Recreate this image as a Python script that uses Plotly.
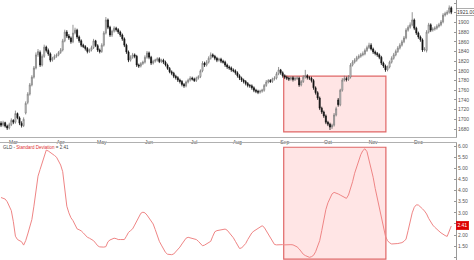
import pandas as pd
import plotly.graph_objects as go

# ---------------- data ----------------
dates = pd.bdate_range("2023-02-21", "2023-12-25").strftime("%Y-%m-%d").tolist()

opens = [
    1692, 1688, 1693, 1686, 1682, 1689, 1698, 1694, 1712, 1703,
    1692, 1687, 1713, 1735, 1752, 1771, 1787, 1806, 1833, 1838,
    1812, 1830, 1849, 1842, 1835, 1822, 1826, 1830, 1833, 1838,
    1843, 1862, 1880, 1872, 1868, 1860, 1878, 1884, 1870, 1862,
    1853, 1850, 1846, 1840, 1843, 1848, 1862, 1852, 1843, 1840,
    1853, 1878, 1905, 1890, 1874, 1882, 1888, 1885, 1880, 1874,
    1866, 1853, 1839, 1822, 1828, 1833, 1830, 1812, 1810, 1815,
    1818, 1828, 1837, 1828, 1816, 1820, 1822, 1825, 1819, 1822,
    1818, 1812, 1805, 1798, 1795, 1789, 1786, 1781, 1778, 1772,
    1769, 1777, 1781, 1785, 1783, 1780, 1785, 1788, 1800, 1816,
    1812, 1818, 1826, 1833, 1830, 1826, 1822, 1824, 1820, 1818,
    1812, 1808, 1806, 1802, 1800, 1796, 1790, 1785, 1781, 1778,
    1774, 1770, 1769, 1765, 1760, 1758, 1756, 1758, 1760, 1770,
    1777, 1780, 1778, 1783, 1785, 1794, 1802, 1796, 1790, 1787,
    1785, 1783, 1786, 1782, 1785, 1785, 1771, 1778, 1787, 1790,
    1786, 1785, 1780, 1765, 1755, 1744, 1723, 1715, 1707, 1694,
    1690, 1684, 1688, 1709, 1740, 1730, 1760, 1781, 1784, 1782,
    1787, 1812, 1818, 1822, 1827, 1830, 1833, 1835, 1842, 1848,
    1853, 1845, 1839, 1836, 1833, 1828, 1816, 1810, 1802, 1808,
    1818, 1826, 1833, 1840, 1847, 1853, 1860, 1868, 1884, 1890,
    1895, 1905, 1888, 1878, 1870, 1864, 1843, 1842, 1880, 1895,
    1884, 1886, 1888, 1892, 1895, 1901, 1915, 1918, 1921, 1930,
]
highs = [
    1696, 1697, 1695, 1689, 1693, 1702, 1700, 1718, 1714, 1706,
    1696, 1704, 1737, 1756, 1775, 1791, 1810, 1838, 1845, 1842,
    1834, 1854, 1852, 1846, 1838, 1829, 1834, 1836, 1841, 1847,
    1866, 1885, 1884, 1876, 1871, 1895, 1889, 1887, 1873, 1865,
    1856, 1853, 1849, 1846, 1852, 1866, 1864, 1855, 1846, 1857,
    1882, 1911, 1908, 1893, 1885, 1892, 1891, 1888, 1883, 1877,
    1869, 1856, 1842, 1832, 1837, 1836, 1833, 1815, 1818, 1821,
    1832, 1841, 1840, 1831, 1823, 1825, 1828, 1828, 1825, 1825,
    1821, 1815, 1808, 1801, 1798, 1792, 1789, 1784, 1781, 1775,
    1780, 1784, 1789, 1788, 1786, 1788, 1791, 1803, 1820, 1819,
    1822, 1830, 1838, 1836, 1833, 1829, 1827, 1827, 1823, 1821,
    1815, 1811, 1809, 1805, 1803, 1799, 1793, 1788, 1784, 1781,
    1777, 1773, 1772, 1768, 1763, 1761, 1761, 1763, 1773, 1781,
    1783, 1783, 1786, 1789, 1798, 1808, 1804, 1799, 1793, 1790,
    1788, 1789, 1789, 1788, 1789, 1788, 1781, 1791, 1802, 1793,
    1789, 1788, 1783, 1768, 1758, 1747, 1726, 1718, 1710, 1697,
    1693, 1691, 1713, 1726, 1744, 1763, 1785, 1790, 1788, 1791,
    1816, 1822, 1826, 1831, 1834, 1837, 1840, 1846, 1852, 1858,
    1857, 1848, 1842, 1839, 1836, 1831, 1819, 1813, 1811, 1821,
    1830, 1837, 1844, 1851, 1857, 1864, 1872, 1888, 1894, 1900,
    1921, 1908, 1891, 1881, 1873, 1867, 1849, 1884, 1899, 1898,
    1890, 1892, 1896, 1899, 1905, 1919, 1922, 1925, 1935, 1933,
]
lows = [
    1684, 1685, 1683, 1678, 1679, 1686, 1690, 1691, 1700, 1688,
    1683, 1684, 1710, 1731, 1749, 1768, 1784, 1803, 1829, 1808,
    1809, 1827, 1838, 1831, 1818, 1819, 1823, 1827, 1830, 1835,
    1840, 1859, 1868, 1864, 1856, 1857, 1875, 1866, 1858, 1849,
    1847, 1842, 1836, 1837, 1840, 1845, 1849, 1839, 1836, 1837,
    1850, 1875, 1886, 1870, 1870, 1879, 1881, 1876, 1870, 1862,
    1849, 1835, 1818, 1819, 1825, 1826, 1808, 1806, 1807, 1812,
    1815, 1825, 1824, 1812, 1813, 1817, 1819, 1816, 1816, 1814,
    1809, 1802, 1795, 1791, 1785, 1782, 1777, 1774, 1768, 1765,
    1766, 1774, 1778, 1780, 1777, 1777, 1782, 1785, 1797, 1808,
    1809, 1815, 1823, 1827, 1822, 1818, 1819, 1816, 1815, 1808,
    1804, 1802, 1798, 1797, 1792, 1786, 1781, 1777, 1774, 1770,
    1766, 1765, 1761, 1756, 1754, 1752, 1753, 1755, 1757, 1767,
    1774, 1775, 1775, 1780, 1782, 1791, 1792, 1786, 1783, 1781,
    1779, 1780, 1778, 1779, 1781, 1767, 1768, 1775, 1784, 1782,
    1781, 1776, 1761, 1751, 1740, 1719, 1711, 1703, 1690, 1686,
    1678, 1680, 1685, 1706, 1726, 1727, 1757, 1778, 1778, 1779,
    1784, 1809, 1815, 1819, 1824, 1827, 1830, 1832, 1839, 1845,
    1842, 1835, 1832, 1829, 1824, 1812, 1806, 1798, 1799, 1805,
    1815, 1823, 1830, 1837, 1844, 1850, 1857, 1865, 1881, 1887,
    1892, 1884, 1874, 1866, 1860, 1839, 1840, 1838, 1877, 1880,
    1881, 1883, 1885, 1889, 1892, 1898, 1912, 1915, 1918, 1917,
]
closes = [
    1688, 1693, 1686, 1682, 1689, 1698, 1694, 1712, 1703, 1692,
    1687, 1700, 1733, 1752, 1771, 1787, 1806, 1833, 1840, 1812,
    1830, 1849, 1842, 1835, 1822, 1826, 1830, 1833, 1838, 1843,
    1862, 1880, 1872, 1868, 1860, 1878, 1884, 1870, 1862, 1853,
    1850, 1846, 1840, 1843, 1848, 1862, 1852, 1843, 1840, 1853,
    1878, 1905, 1890, 1874, 1882, 1888, 1885, 1880, 1874, 1866,
    1853, 1839, 1822, 1828, 1833, 1830, 1812, 1810, 1815, 1818,
    1828, 1837, 1828, 1816, 1820, 1822, 1825, 1819, 1822, 1818,
    1812, 1805, 1798, 1795, 1789, 1786, 1781, 1778, 1772, 1769,
    1777, 1781, 1785, 1783, 1780, 1785, 1788, 1800, 1816, 1812,
    1818, 1826, 1833, 1830, 1826, 1822, 1824, 1820, 1818, 1812,
    1808, 1806, 1802, 1800, 1796, 1790, 1785, 1781, 1778, 1774,
    1770, 1769, 1765, 1760, 1758, 1756, 1758, 1760, 1770, 1777,
    1780, 1778, 1783, 1785, 1794, 1802, 1796, 1790, 1787, 1785,
    1783, 1786, 1782, 1785, 1785, 1771, 1778, 1787, 1790, 1786,
    1785, 1780, 1765, 1755, 1744, 1723, 1715, 1707, 1694, 1690,
    1684, 1688, 1709, 1722, 1730, 1760, 1781, 1784, 1782, 1787,
    1812, 1818, 1822, 1827, 1830, 1833, 1835, 1842, 1848, 1853,
    1845, 1839, 1836, 1833, 1828, 1816, 1810, 1802, 1808, 1818,
    1826, 1833, 1840, 1847, 1853, 1860, 1868, 1884, 1890, 1895,
    1905, 1888, 1878, 1870, 1864, 1843, 1845, 1880, 1895, 1884,
    1886, 1888, 1892, 1895, 1901, 1915, 1918, 1921, 1930, 1921,
]
std_dev = [
    3.69, 3.67, 3.62, 3.50, 3.32, 3.10, 2.60, 1.95, 1.80, 1.74,
    1.70, 1.55, 1.75, 2.05, 2.40, 2.70, 3.30, 4.10, 4.65, 4.95,
    5.25, 5.60, 5.82, 5.78, 5.72, 5.65, 5.58, 5.50, 5.35, 5.15,
    4.85, 4.10, 3.30, 3.00, 2.78, 2.65, 2.45, 2.28, 2.24, 2.19,
    2.10, 1.98, 1.90, 1.86, 1.82, 1.75, 1.64, 1.52, 1.47, 1.45,
    1.46, 1.48, 1.70, 1.78, 1.82, 1.86, 1.84, 1.80, 1.80, 1.79,
    1.80, 1.95, 2.12, 2.20, 2.28, 2.45, 2.65, 2.85, 2.98, 3.03,
    3.00, 2.90, 2.78, 2.65, 2.50, 2.25, 1.95, 1.72, 1.55, 1.35,
    1.22, 1.14, 1.12, 1.12, 1.15, 1.25, 1.35, 1.46, 1.60, 1.75,
    1.86, 1.90, 1.88, 1.85, 1.83, 1.80, 1.72, 1.60, 1.52, 1.55,
    1.60, 1.65, 1.72, 1.95, 2.15, 2.20, 2.22, 2.23, 2.25, 2.27,
    2.22, 2.12, 2.03, 1.88, 1.72, 1.55, 1.40, 1.42, 1.52, 1.62,
    1.80, 1.98, 2.10, 2.18, 2.24, 2.28, 2.36, 2.42, 2.35, 2.20,
    2.05, 1.85, 1.70, 1.58, 1.56, 1.57, 1.58, 1.57, 1.56, 1.57,
    1.58, 1.57, 1.56, 1.52, 1.47, 1.38, 1.25, 1.14, 1.08, 1.02,
    1.00, 1.03, 1.09, 1.25, 1.47, 1.75, 2.20, 2.75, 3.15, 3.45,
    3.68, 3.85, 3.92, 3.90, 3.85, 3.80, 3.75, 3.70, 3.65, 3.80,
    4.08, 4.40, 4.78, 5.10, 5.40, 5.62, 5.80, 5.88, 5.75, 5.40,
    5.00, 4.60, 4.10, 3.65, 3.25, 2.90, 2.30, 1.95, 1.75, 1.65,
    1.60, 1.60, 1.61, 1.62, 1.64, 1.66, 1.72, 1.82, 2.20, 2.65,
    3.00, 3.25, 3.36, 3.35, 3.28, 3.18, 3.08, 2.95, 2.75, 2.58,
    2.45, 2.35, 2.25, 2.18, 2.10, 2.03, 1.98, 1.94, 2.15, 2.41,
]
price_ticks = [1680, 1700, 1720, 1740, 1760, 1780, 1800, 1820, 1840,
               1860, 1880, 1900, 1920, 1940]
sd_ticks = [1.0, 1.5, 2.0, 2.5, 3.0, 3.5, 4.0, 4.5, 5.0, 5.5, 6.0]
highlight_start = "2023-09-01"
highlight_end = "2023-11-09"
highlight_price = [1674, 1789]
highlight_sd = [0.92, 5.95]

# ---------------- figure ----------------
W, H = 474, 260
month_vals, month_text = [], []
prev = None
for d in dates:
    m = d[:7]
    if m != prev and d[8:] <= "07" and prev is not None:
        month_vals.append(d)
        month_text.append(pd.Timestamp(d).strftime("%b"))
    prev = m

last_close = closes[-1]
last_sd = std_dev[-1]


def tick_labels(vals, fmt, covered, gap):
    # labels hidden behind the current-value box are left blank
    return ["" if abs(v - covered) < gap else fmt.format(v) for v in vals]


fig = go.Figure()
fig.add_trace(go.Candlestick(
    x=dates, open=opens, high=highs, low=lows, close=closes,
    xaxis="x", yaxis="y",
    increasing=dict(line=dict(color="#7a7a7a", width=0.8), fillcolor="#ffffff"),
    decreasing=dict(line=dict(color="#111111", width=0.8), fillcolor="#111111"),
    whiskerwidth=0, showlegend=False,
))
fig.add_trace(go.Scatter(
    x=dates, y=std_dev, mode="lines", xaxis="x2", yaxis="y2",
    line=dict(color="#ef8585", width=1), showlegend=False,
))

i0 = dates.index(highlight_start) - 0.5
i1 = dates.index(highlight_end) + 0.2
box_style = dict(type="rect", line=dict(color="#e06666", width=1.2),
                 fillcolor="rgba(255,80,80,0.15)", layer="below")
fig.add_shape(xref="x", yref="y", x0=i0, x1=i1,
              y0=highlight_price[0], y1=highlight_price[1], **box_style)
fig.add_shape(xref="x2", yref="y2", x0=i0, x1=i1,
              y0=highlight_sd[0], y1=highlight_sd[1], **box_style)

top_bottom = 137
low_top = 143
n = len(dates)
axis_font = dict(family="Liberation Sans, Arial", size=5, color="#555")
fig.update_layout(
    width=W, height=H,
    margin=dict(l=0, r=18, t=0, b=0),
    paper_bgcolor="white", plot_bgcolor="white",
    xaxis=dict(domain=[0, 1], anchor="y", type="category",
               range=[-0.5, n + 1.3], tickvals=month_vals, ticktext=month_text,
               tickfont=axis_font, showline=True, linecolor="#b0b0b0",
               linewidth=1, ticks="", showgrid=False,
               rangeslider=dict(visible=False)),
    yaxis=dict(domain=[1 - top_bottom / H, 1], anchor="x", side="right",
               range=[1663.5, 1946.2], tickvals=price_ticks,
               ticktext=tick_labels(price_ticks, "{:.0f}", last_close, 8),
               tickfont=axis_font, showline=True, linecolor="#999",
               ticks="inside", ticklen=2, tickcolor="#999", showgrid=False,
               zeroline=False),
    xaxis2=dict(domain=[0, 1], anchor="y2", type="category", matches="x",
                side="top", showticklabels=False, showline=True,
                linecolor="#b0b0b0", linewidth=1, ticks="", showgrid=False),
    yaxis2=dict(domain=[0, 1 - low_top / H], anchor="x2", side="right",
                range=[0.88, 6.14], tickvals=sd_ticks,
                ticktext=tick_labels(sd_ticks, "{:.2f}", last_sd, 0.2),
                tickfont=axis_font, showline=True, linecolor="#999",
                ticks="inside", ticklen=2, tickcolor="#999", showgrid=False,
                zeroline=False),
)

fig.add_annotation(
    xref="paper", yref="y", x=1.0, y=last_close, xanchor="left",
    yanchor="middle", text=f"{last_close:.2f}", showarrow=False,
    font=dict(family="Liberation Sans, Arial", size=5, color="#333"),
    bgcolor="white", bordercolor="#777", borderwidth=0.6, borderpad=0.5,
)
fig.add_annotation(
    xref="paper", yref="y2", x=1.0, y=last_sd, xanchor="left",
    yanchor="middle", text=f"{last_sd:.2f}", showarrow=False,
    font=dict(family="Liberation Sans, Arial", size=5, color="white"),
    bgcolor="#dd0000", bordercolor="#dd0000", borderwidth=0.6, borderpad=0.8,
)
fig.add_annotation(
    xref="paper", yref="paper", x=0.002, y=1 - 147 / H, xanchor="left",
    yanchor="middle", showarrow=False,
    text=("GLD - <span style='color:#e03030'>Standard Deviation</span>"
          f" = {last_sd:.2f}"),
    font=dict(family="Liberation Sans, Arial", size=4.5, color="#444"),
)

fig.write_html("out.html")
